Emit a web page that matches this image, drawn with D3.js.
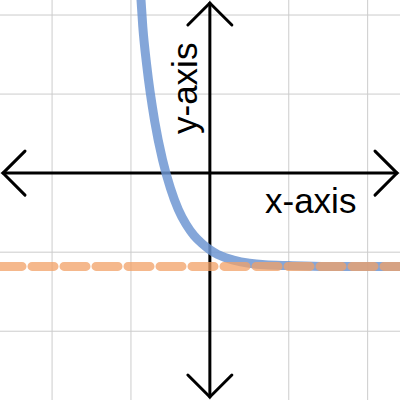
<!DOCTYPE html>
<html><head><meta charset="utf-8">
<script src="https://cdn.jsdelivr.net/npm/d3@7"></script>
<style>body{margin:0;background:#fff}svg{display:block}</style>
</head><body>
<svg id="c" width="400" height="400"></svg>
<script>
const gridX = [-2, -1, 0, 1, 2];
const gridY = [2, 1, 0, -1, -2];
const curveX = [-0.88,-0.85,-0.8,-0.7,-0.6,-0.5,-0.4,-0.3,-0.2,-0.1,0,0.1,0.2,0.3,0.5,0.7,1,1.5,2.5];
const curveY = [2.3,1.85,1.36,0.66,0.17,-0.19,-0.46,-0.65,-0.79,-0.89,-0.97,-1.03,-1.07,-1.10,-1.14,-1.16,-1.17,-1.18,-1.18];
const asymptoteY = -1.18;
const labels = ["x-axis", "y-axis"];

const svg = d3.select("#c");
const x = d3.scaleLinear().domain([-2.66, 2.41]).range([0, 400]);
const y = d3.scaleLinear().domain([2.19, -2.87]).range([0, 400]);

svg.append("g").selectAll("line").data(gridX).join("line")
  .attr("x1", d => x(d)).attr("x2", d => x(d)).attr("y1", 0).attr("y2", 400)
  .attr("stroke", "#ccc").attr("stroke-width", 1);
svg.append("g").selectAll("line").data(gridY).join("line")
  .attr("y1", d => y(d)).attr("y2", d => y(d)).attr("x1", 0).attr("x2", 400)
  .attr("stroke", "#ccc").attr("stroke-width", 1);

const ax = svg.append("g").attr("stroke", "#000").attr("stroke-width", 3).attr("fill", "none").attr("stroke-linecap", "round");
const x0 = x(0), y0 = y(0);
ax.append("line").attr("x1", 3).attr("x2", 397).attr("y1", y0).attr("y2", y0);
ax.append("line").attr("y1", 3).attr("y2", 397).attr("x1", x0).attr("x2", x0);
const a = 22;
ax.append("path").attr("d", `M${3+a},${y0-a}L3,${y0}L${3+a},${y0+a}`);
ax.append("path").attr("d", `M${397-a},${y0-a}L397,${y0}L${397-a},${y0+a}`);
ax.append("path").attr("d", `M${x0-a},${3+a}L${x0},3L${x0+a},${3+a}`);
ax.append("path").attr("d", `M${x0-a},${397-a}L${x0},397L${x0+a},${397-a}`);

const pts = curveX.map((v, i) => [v, curveY[i]]);
svg.append("path").datum(pts)
  .attr("d", d3.line().x(d => x(d[0])).y(d => y(d[1])).curve(d3.curveMonotoneX))
  .attr("fill", "none").attr("stroke", "#6f97d2").attr("stroke-opacity", 0.85).attr("stroke-width", 9)
  .attr("stroke-linecap", "round");

svg.append("line").attr("x1", 0).attr("x2", 400).attr("y1", y(asymptoteY)).attr("y2", y(asymptoteY))
  .attr("stroke", "#f2a066").attr("stroke-opacity", 0.75).attr("stroke-width", 9)
  .attr("stroke-dasharray", "22,10").attr("stroke-linecap", "round");

svg.append("text").attr("x", 265).attr("y", 213).text(labels[0])
  .attr("font-family", "Liberation Sans, Arial, sans-serif").attr("font-size", 35).attr("fill", "#000");
svg.append("text").attr("transform", `translate(197,134) rotate(-90)`).text(labels[1])
  .attr("font-family", "Liberation Sans, Arial, sans-serif").attr("font-size", 35).attr("fill", "#000");
</script>
</body></html>
